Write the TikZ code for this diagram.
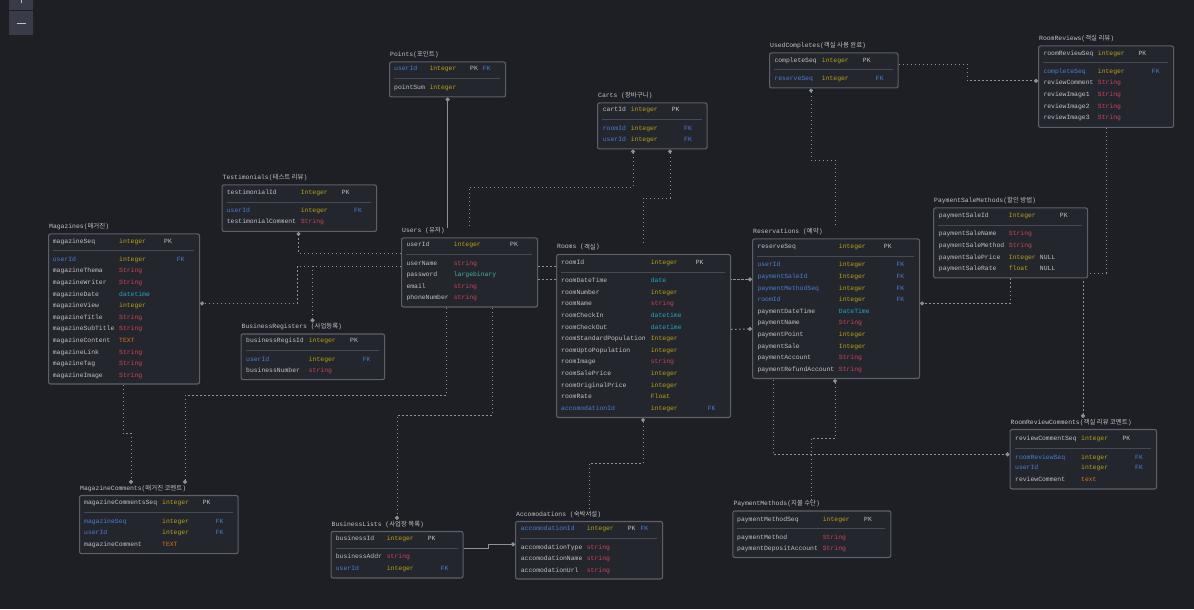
\documentclass[tikz,border=0pt]{standalone}
\usepackage{fontspec}
\setmonofont{Liberation Mono}
\newfontfamily\krfont{Noto Sans CJK KR}
\usetikzlibrary{arrows.meta,backgrounds}
\definecolor{canvas}{HTML}{1E1F24}
\definecolor{tblfill}{HTML}{24262D}
\definecolor{tbldraw}{HTML}{5C606A}
\definecolor{sepcol}{HTML}{464A53}
\definecolor{txt}{HTML}{C2C2C2}
\definecolor{keyblue}{HTML}{4A7DD4}
\definecolor{tyint}{HTML}{B7A314}
\definecolor{tystr}{HTML}{D0425A}
\definecolor{tydate}{HTML}{22A9C6}
\definecolor{tytext}{HTML}{D8731C}
\definecolor{tybin}{HTML}{3FB6A2}
\definecolor{relcol}{HTML}{8E9098}
\definecolor{ctrl}{HTML}{393C48}

\newcommand\kr[1]{{\krfont #1}}
\newcommand\fk[1]{\textcolor{keyblue}{#1}}
\newcommand\tyI[1]{\textcolor{tyint}{#1}}
\newcommand\tyS[1]{\textcolor{tystr}{#1}}
\newcommand\tyD[1]{\textcolor{tydate}{#1}}
\newcommand\tyT[1]{\textcolor{tytext}{#1}}
\newcommand\tyB[1]{\textcolor{tybin}{#1}}
% table box with its title: name, title, x1, y1, x2, y2
\newcommand\ertable[6]{%
  \def\tabL{#3}\def\tabR{#5}%
  \node[tbl,minimum width=#5-#3,minimum height=#6-#4] (#1) at (#3,#4) {};
  \node[ttl] (#1-ttl) at (#3+1,#4-6.5) {#2};}
\newcommand\setcols[4]{\def\colA{#1}\def\colB{#2}\def\colC{#3}\def\colD{#4}}
% one field row: id, y, name, type, pk, fk
\newcommand\fld[6]{%
  \node[cell] (#1-n) at (\colA,#2) {#3};
  \node[cell] (#1-t) at (\colB,#2) {#4};
  \node[cell] (#1-p) at (\colC,#2) {#5};
  \node[cell] (#1-f) at (\colD,#2) {#6};}
\newcommand\tsep[1]{\draw[sepline] (\tabL+5,#1) -- (\tabR-5,#1);}

\begin{document}
\begin{tikzpicture}[x=1pt,y=-1pt,
  font=\ttfamily\fontsize{6.4}{7.7}\selectfont,
  tbl/.style={draw=tbldraw,fill=tblfill,line width=1.1pt,rounded corners=2pt,
    anchor=north west,inner sep=0},
  ttl/.style={anchor=west,inner sep=0,text=txt,text height=4.6pt,text depth=1.4pt},
  cell/.style={anchor=west,inner sep=0,text=txt,text height=4.6pt,text depth=1.4pt},
  sepline/.style={draw=sepcol,line width=0.9pt},
  rel/.style={draw=relcol,line width=1pt,dash pattern=on 1.5pt off 2.5pt},
  solidrel/.style={draw=relcol,line width=1pt},
  dotS/.style={{Circle[length=4pt]}-},
  dotE/.style={-{Circle[length=4pt]}}]
  \begin{scope}[on background layer]
    \fill[canvas] (0,0) rectangle (1194,609);
  \end{scope}
  % zoom buttons
  \fill[ctrl] (9,0) rectangle (33,10);
  \draw[txt,line width=0.8pt] (21.5,0) -- (21.5,2.7);
  \fill[ctrl] (9,11) rectangle (33,34.7);
  \draw[txt,line width=0.8pt] (16.7,22.7) -- (25.7,22.7);

  % Points
  \ertable{points}{Points(\kr{포인트})}{389}{61}{505}{96}
  \setcols{394}{429.3}{470}{482.7}
  \fld{points-1}{68.7}{\fk{userId}}{\tyI{integer}}{PK}{\fk{FK}}
  \tsep{78.3}
  \fld{points-2}{87.7}{pointSum}{\tyI{integer}}{}{}
  % Carts
  \ertable{carts}{Carts (\kr{장바구니})}{597}{102}{706.5}{148}
  \setcols{602.7}{630.7}{671.7}{684}
  \fld{carts-1}{109.3}{cartId}{\tyI{integer}}{PK}{}
  \tsep{119.3}
  \fld{carts-2}{128.7}{\fk{roomId}}{\tyI{integer}}{}{\fk{FK}}
  \fld{carts-3}{139.7}{\fk{userId}}{\tyI{integer}}{}{\fk{FK}}
  % UsedCompletes
  \ertable{usedc}{UsedCompletes(\kr{객실 사용 완료})}{769}{52}{897.5}{87}
  \setcols{774.3}{821.7}{862.7}{875.7}
  \fld{usedc-1}{60.7}{completeSeq}{\tyI{integer}}{PK}{}
  \tsep{69.3}
  \fld{usedc-2}{78.7}{\fk{reserveSeq}}{\tyI{integer}}{}{\fk{FK}}
  % RoomReviews
  \ertable{roomrev}{RoomReviews(\kr{객실 리뷰})}{1038}{45}{1173}{126.5}
  \setcols{1043.3}{1097.7}{1138.3}{1151.7}
  \fld{roomrev-1}{53.7}{roomReviewSeq}{\tyI{integer}}{PK}{}
  \tsep{62.3}
  \fld{roomrev-2}{71.7}{\fk{completeSeq}}{\tyI{integer}}{}{\fk{FK}}
  \fld{roomrev-3}{82.7}{reviewComment}{\tyS{String}}{}{}
  \fld{roomrev-4}{94.3}{reviewImage1}{\tyS{String}}{}{}
  \fld{roomrev-5}{106.3}{reviewImage2}{\tyS{String}}{}{}
  \fld{roomrev-6}{117.7}{reviewImage3}{\tyS{String}}{}{}
  % Testimonials
  \ertable{testi}{Testimonials(\kr{테스트 리뷰})}{221.5}{184}{376}{230.5}
  \setcols{226.7}{300.7}{341.7}{354}
  \fld{testi-1}{192.7}{testimonialId}{\tyI{Integer}}{PK}{}
  \tsep{201.7}
  \fld{testi-2}{210.7}{\fk{userId}}{\tyI{integer}}{}{\fk{FK}}
  \fld{testi-3}{221.7}{testimonialComment}{\tyS{String}}{}{}
  % Magazines
  \ertable{mags}{Magazines(\kr{매거진})}{48}{233}{199}{383}
  \setcols{52.7}{119}{164}{176.7}
  \fld{mags-1}{241.7}{magazineSeq}{\tyI{integer}}{PK}{}
  \tsep{250.3}
  \fld{mags-2}{259.7}{\fk{userId}}{\tyI{integer}}{}{\fk{FK}}
  \fld{mags-3}{270.7}{magazineThema}{\tyS{String}}{}{}
  \fld{mags-4}{282.7}{magazineWriter}{\tyS{String}}{}{}
  \fld{mags-5}{294.7}{magazineDate}{\tyD{datetime}}{}{}
  \fld{mags-6}{305.7}{magazineView}{\tyI{integer}}{}{}
  \fld{mags-7}{317.3}{magazineTitle}{\tyS{String}}{}{}
  \fld{mags-8}{328.7}{magazineSubTitle}{\tyS{String}}{}{}
  \fld{mags-9}{340.7}{magazineContent}{\tyT{TEXT}}{}{}
  \fld{mags-10}{352.7}{magazineLink}{\tyS{String}}{}{}
  \fld{mags-11}{363.7}{magazineTag}{\tyS{String}}{}{}
  \fld{mags-12}{375.7}{magazineImage}{\tyS{String}}{}{}
  % Users
  \ertable{users}{Users (\kr{유저})}{401}{237}{537}{306}
  \setcols{406.3}{453.7}{510}{522}
  \fld{users-1}{244.7}{userId}{\tyI{integer}}{PK}{}
  \tsep{254.3}
  \fld{users-2}{263.7}{userName}{\tyS{string}}{}{}
  \fld{users-3}{274.7}{password}{\tyB{largebinary}}{}{}
  \fld{users-4}{286.7}{email}{\tyS{string}}{}{}
  \fld{users-5}{297.7}{phoneNumber}{\tyS{string}}{}{}
  % BusinessRegisters
  \ertable{bizreg}{BusinessRegisters (\kr{사업등록})}{240.5}{333}{384}{378.7}
  \setcols{246}{308.7}{350}{362.7}
  \fld{bizreg-1}{340.3}{businessRegisId}{\tyI{integer}}{PK}{}
  \tsep{350.3}
  \fld{bizreg-2}{359.3}{\fk{userId}}{\tyI{integer}}{}{\fk{FK}}
  \fld{bizreg-3}{370.3}{businessNumber}{\tyS{string}}{}{}
  % Rooms
  \ertable{rooms}{Rooms (\kr{객실})}{556}{253.5}{730}{416.5}
  \setcols{561}{650.7}{695.7}{707.7}
  \fld{rooms-1}{262.7}{roomId}{\tyI{integer}}{PK}{}
  \tsep{271.7}
  \fld{rooms-2}{280.7}{roomDateTime}{\tyD{date}}{}{}
  \fld{rooms-3}{292.3}{roomNumber}{\tyI{integer}}{}{}
  \fld{rooms-4}{303.3}{roomName}{\tyS{string}}{}{}
  \fld{rooms-5}{315.7}{roomCheckIn}{\tyD{datetime}}{}{}
  \fld{rooms-6}{327.7}{roomCheckOut}{\tyD{datetime}}{}{}
  \fld{rooms-7}{338.7}{roomStandardPopulation}{\tyI{Integer}}{}{}
  \fld{rooms-8}{350.3}{roomUptoPopulation}{\tyI{integer}}{}{}
  \fld{rooms-9}{361.3}{roomImage}{\tyS{string}}{}{}
  \fld{rooms-10}{373.3}{roomSalePrice}{\tyI{integer}}{}{}
  \fld{rooms-11}{385.3}{roomOriginalPrice}{\tyI{integer}}{}{}
  \fld{rooms-12}{396.3}{roomRate}{\tyI{Float}}{}{}
  \fld{rooms-13}{408.3}{\fk{accomodationId}}{\tyI{integer}}{}{\fk{FK}}
  % Reservations
  \ertable{resv}{Reservations (\kr{예약})}{752}{238}{919}{377.5}
  \setcols{757.3}{838.7}{883.7}{896.3}
  \fld{resv-1}{246.7}{reserveSeq}{\tyI{integer}}{PK}{}
  \tsep{256.3}
  \fld{resv-2}{264.7}{\fk{userId}}{\tyI{integer}}{}{\fk{FK}}
  \fld{resv-3}{276.7}{\fk{paymentSaleId}}{\tyI{Integer}}{}{\fk{FK}}
  \fld{resv-4}{288}{\fk{paymentMethodSeq}}{\tyI{integer}}{}{\fk{FK}}
  \fld{resv-5}{299.7}{\fk{roomId}}{\tyI{integer}}{}{\fk{FK}}
  \fld{resv-6}{311.7}{paymentDateTime}{\tyD{DateTime}}{}{}
  \fld{resv-7}{322.7}{paymentName}{\tyS{String}}{}{}
  \fld{resv-8}{334.7}{paymentPoint}{\tyI{integer}}{}{}
  \fld{resv-9}{346.3}{paymentSale}{\tyI{Integer}}{}{}
  \fld{resv-10}{357.7}{paymentAccount}{\tyS{String}}{}{}
  \fld{resv-11}{369.7}{paymentRefundAccount}{\tyS{String}}{}{}
  % PaymentSaleMethods
  \ertable{paysale}{PaymentSaleMethods(\kr{할인 방법})}{933}{207}{1087}{277}
  \setcols{938.7}{1008.7}{1059.7}{1039.7}
  \fld{paysale-1}{215.7}{paymentSaleId}{\tyI{Integer}}{PK}{}
  \tsep{225}
  \fld{paysale-2}{234}{paymentSaleName}{\tyS{String}}{}{}
  \fld{paysale-3}{245.7}{paymentSaleMethod}{\tyS{String}}{}{}
  \fld{paysale-4}{257.7}{paymentSalePrice}{\tyI{Integer}}{}{NULL}
  \fld{paysale-5}{268.3}{paymentSaleRate}{\tyI{float}}{}{NULL}
  % RoomReviewComments
  \ertable{rrcom}{RoomReviewComments(\kr{객실 리뷰 코멘트})}{1009.5}{428.5}{1156}{488}
  \setcols{1015}{1081}{1122.3}{1135}
  \fld{rrcom-1}{438.7}{reviewCommentSeq}{\tyI{integer}}{PK}{}
  \tsep{448}
  \fld{rrcom-2}{457}{\fk{roomReviewSeq}}{\tyI{integer}}{}{\fk{FK}}
  \fld{rrcom-3}{467.7}{\fk{userId}}{\tyI{integer}}{}{\fk{FK}}
  \fld{rrcom-4}{479.3}{reviewComment}{\tyT{text}}{}{}
  % MagazineComments
  \ertable{magcom}{MagazineComments(\kr{매거진 코멘트})}{79}{494.5}{237.5}{552.7}
  \setcols{84}{162}{202.7}{215.7}
  \fld{magcom-1}{502.7}{magazineCommentsSeq}{\tyI{integer}}{PK}{}
  \tsep{512.3}
  \fld{magcom-2}{521.7}{\fk{magazineSeq}}{\tyI{integer}}{}{\fk{FK}}
  \fld{magcom-3}{532.3}{\fk{userId}}{\tyI{integer}}{}{\fk{FK}}
  \fld{magcom-4}{544.3}{magazineComment}{\tyT{TEXT}}{}{}
  % BusinessLists
  \ertable{bizlist}{BusinessLists (\kr{사업장 목록})}{330.5}{530.5}{462.5}{577}
  \setcols{335.7}{386.7}{427.7}{440.7}
  \fld{bizlist-1}{538.7}{businessId}{\tyI{integer}}{PK}{}
  \tsep{548}
  \fld{bizlist-2}{556.7}{businessAddr}{\tyS{string}}{}{}
  \fld{bizlist-3}{568.7}{\fk{userId}}{\tyI{integer}}{}{\fk{FK}}
  % Accomodations
  \ertable{accom}{Accomodations (\kr{숙박시설})}{515}{520.5}{662}{578}
  \setcols{520.7}{586.7}{627.7}{640.3}
  \fld{accom-1}{528.7}{\fk{accomodationId}}{\tyI{integer}}{PK}{\fk{FK}}
  \tsep{538.3}
  \fld{accom-2}{547}{accomodationType}{\tyS{string}}{}{}
  \fld{accom-3}{558.3}{accomodationName}{\tyS{string}}{}{}
  \fld{accom-4}{570}{accomodationUrl}{\tyS{string}}{}{}
  % PaymentMethods
  \ertable{paymeth}{PaymentMethods(\kr{지불 수단})}{732.3}{510}{890.3}{556.5}
  \setcols{737}{822.7}{864}{876}
  \fld{paymeth-1}{519}{paymentMethodSeq}{\tyI{integer}}{PK}{}
  \tsep{528}
  \fld{paymeth-2}{537}{paymentMethod}{\tyS{String}}{}{}
  \fld{paymeth-3}{548.7}{paymentDepositAccount}{\tyS{String}}{}{}

  % relations, behind the tables
  \begin{scope}[on background layer]
    \draw[solidrel,dotS] (points.south) -- (points.south |- users-ttl.north);
    \draw[rel,dotS] ([xshift=36]carts.south west) |- (469,187)
      -- ([xshift=68,yshift=11]users.north west);
    \draw[rel,dotS] ([xshift=73]carts.south west) |- (643,198)
      -- ([xshift=87,yshift=11]rooms.north west);
    \draw[rel,dotE] ([yshift=-12]usedc.north east) -| (967,80.5)
      -- ([yshift=-35.5]roomrev.north west);
    \draw[rel,dotS] ([xshift=42]usedc.south west) |- (835,160)
      -- ([xshift=83,yshift=11]resv.north west);
    \draw[rel,dotE] ([xshift=68]roomrev.south west) |- (1083,273)
      -- ([xshift=73.5,yshift=11]rrcom.north west);
    \draw[rel,dotE] ([xshift=77]paysale.south west) |- ([yshift=-65]resv.north east);
    \draw[rel,dotE] ([yshift=-42]users.north east) -- ([yshift=-41]resv.north west);
    \draw[rel,dotE] ([yshift=-29]users.north east) -| (700,279) -| (773,454)
      -- ([yshift=-25.5]rrcom.north west);
    \draw[rel,dotE] ([yshift=-75.5]rooms.north east) -- ([yshift=-90.5]resv.north west);
    \draw[rel,dotS] ([xshift=83]resv.south west) |- (811,438)
      -- ([xshift=78.7,yshift=11]paymeth.north west);
    \draw[rel,dotS] ([xshift=87]rooms.south west) |- (589,463)
      -- ([xshift=74,yshift=9]accom.north west);
    \draw[rel,dotE] ([xshift=91]users.south west) |- (397,415)
      -- ([xshift=66.5,yshift=11]bizlist.north west);
    \draw[rel,dotE] ([xshift=45]users.south west) |- (185,395)
      -- ([xshift=106,yshift=11]magcom.north west);
    \draw[rel,dotE] ([xshift=75]mags.south west) |- (131,433)
      -- ([xshift=52,yshift=11]magcom.north west);
    \draw[rel,dotE] ([yshift=-29]users.north west) -| (297,303)
      -- ([yshift=-70]mags.north east);
    \draw[rel,dotE] ([yshift=-29]users.north west) -| ([xshift=72,yshift=11]bizreg.north west);
    \draw[rel,dotE] ([yshift=-16]users.north west) -| ([xshift=77]testi.south west);
    \draw[solidrel,dotE] ([yshift=-17.5]bizlist.north east) -- (488,548)
      |- ([yshift=-23.5]accom.north west);
  \end{scope}
\end{tikzpicture}
\end{document}
